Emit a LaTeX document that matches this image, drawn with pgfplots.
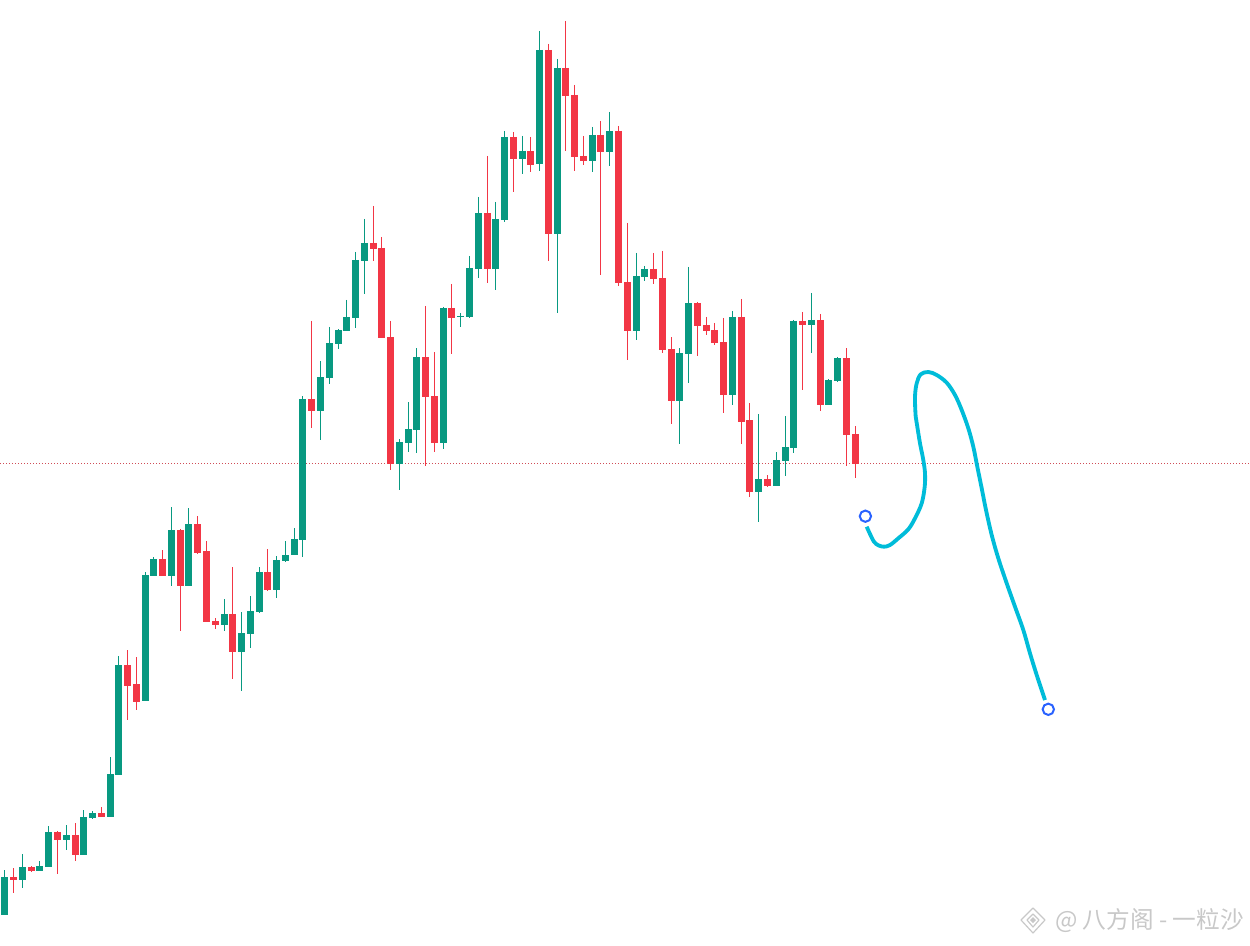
\documentclass[border=0pt]{standalone}
\usepackage{pgfplots}
\usepackage{pgfplotstable}
\usepackage{fontspec}
\pgfplotsset{compat=1.18}
\setmainfont{Noto Sans CJK SC}
\definecolor{cgreen}{HTML}{089981}
\definecolor{cred}{HTML}{F23645}
\definecolor{ccyan}{HTML}{00BCD9}
\definecolor{cblue}{HTML}{2962FF}
\definecolor{wm}{HTML}{C8C8C8}
\pgfplotstableread{
x hi top bot lo
4.3 870 877 915 915
22.3 854 867 880 888
39.3 861 866 871 871
48.3 826 832 867 867
66.3 825 835 840 850
83.3 810 817 855 855
92.3 811 813 818 819
110.3 757 774 817 817
118.3 656 665 775 775
145.3 572 575 701 701
153.3 557 559 576 576
171.3 507 530 576 586
188.3 508 524 586 586
224.3 599 614 625 631
241.3 612 633 652 691
250.3 596 611 634 648
259.3 567 572 612 613
276.3 556 560 590 598
285.3 541 555 561 562
294.3 528 539 555 555
302.3 396 399 540 557
320.3 361 377 411 440
329.3 327 343 378 384
338.3 329 330 344 349
346.3 300 317 331 331
355.3 252 260 318 328
364.3 219 243 261 294
399.3 439 442 464 490
408.3 402 429 443 452
416.3 348 357 430 453
443.3 307 308 443 449
460.3 313 316 317 327
469.3 256 268 317 318
478.3 197 213 269 278
495.3 202 219 269 290
504.3 131 137 220 222
522.3 136 151 159 174
539.3 31 50 164 171
557.3 59 68 234 313
592.3 127 135 161 172
609.3 112 131 152 166
636.3 253 276 331 340
644.3 266 269 277 281
679.3 348 353 401 444
688.3 267 303 354 383
732.3 311 317 395 405
758.3 414 479 492 522
776.3 452 460 486 486
785.3 416 447 461 476
793.3 320 321 448 453
811.3 293 320 325 353
828.3 379 380 405 405
837.3 357 358 381 382
}\greens
\pgfplotstableread{
x hi top bot lo
13.3 868 877 880 893
31.3 866 867 871 872
57.3 831 832 840 874
75.3 823 835 855 861
101.3 807 813 817 817
127.3 650 665 686 720
136.3 657 684 702 710
162.3 550 559 576 576
180.3 529 530 586 631
197.3 516 524 553 554
206.3 541 551 622 622
215.3 618 621 625 629
232.3 567 614 652 679
267.3 549 572 590 591
311.3 321 399 411 428
373.3 206 243 249 261
381.3 237 248 338 338
390.3 321 337 464 470
425.3 306 357 397 466
434.3 352 396 443 452
451.3 284 308 318 354
487.3 156 213 269 283
513.3 132 137 159 192
530.3 137 151 165 172
548.3 44 50 234 261
565.3 21 68 96 151
574.3 85 95 157 171
583.3 136 156 161 165
600.3 121 135 152 275
618.3 126 131 283 286
627.3 223 282 331 360
653.3 253 269 279 284
662.3 251 278 350 353
671.3 337 349 401 424
697.3 302 303 326 356
706.3 317 325 331 335
714.3 323 330 343 345
723.3 318 342 395 413
741.3 299 317 422 444
749.3 403 420 492 497
767.3 475 479 486 487
802.3 312 321 325 390
820.3 314 320 405 411
846.3 348 358 435 466
855.3 426 434 464 478
}\reds
\pgfplotsset{
  wick/.style={draw=none, mark=none, forget plot, error bars/.cd, y dir=plus, y explicit, error mark=none, error bar style={draw=#1, line width=0.6pt}},
  body/.style={draw=none, mark=none, forget plot, error bars/.cd, y dir=plus, y explicit, error mark=none, error bar style={draw=#1, line width=4.2pt}},
}
\begin{document}
\begin{tikzpicture}
\useasboundingbox (0,0) rectangle (750pt,567.6pt);
\begin{axis}[
  width=750pt, height=567.6pt, scale only axis,
  xmin=0, xmax=1250, ymin=0, ymax=946, y dir=reverse,
  hide axis, clip=false, at={(0,0)}, anchor=south west,
]
\addplot[cred!70!gray, line width=0.4pt, dash pattern=on 0.6pt off 1.2pt, forget plot] coordinates {(0,463.5) (1250,463.5)};
\addplot[wick=cgreen] table[x=x, y=hi, y error expr=\thisrow{lo}-\thisrow{hi}] {\greens};
\addplot[wick=cred] table[x=x, y=hi, y error expr=\thisrow{lo}-\thisrow{hi}] {\reds};
\addplot[body=cgreen] table[x=x, y=top, y error expr=\thisrow{bot}-\thisrow{top}] {\greens};
\addplot[body=cred] table[x=x, y=top, y error expr=\thisrow{bot}-\thisrow{top}] {\reds};
\addplot[ccyan, line width=2.3pt, smooth, tension=0.55, line cap=butt] coordinates {
(866.7,526.7)(870,534)(874,541.7)(878.3,545.3)(884,546.7)(890,545)(898.3,538.3)(908.3,529.3)(915,518.3)(921.7,503.3)(924.7,486.7)(925,473.3)(923.3,460)(920,443.3)(917.3,426.7)(915.7,416.7)(915,396.7)(916.7,383.3)(920.7,374.3)(928.3,372)(936.7,375)(946.7,382.7)(955,395)(961.7,410)(968.3,428.3)(973.3,446.7)(977.3,466.7)(981.7,488.3)(986,510)(991.7,535)(998.3,558.3)(1006.7,583.3)(1015,606.7)(1023.3,630)(1030,653.3)(1036.7,675)(1045,700)};
\addplot[only marks, mark=*, mark size=3.4pt, mark options={draw=cblue, fill=white, line width=1.2pt}] coordinates {(865.4,516.2)(1048.3,709.3)};
% watermark
\draw[wm, line width=0.7pt, line join=round] (axis cs:1021,920)--(axis cs:1033,908)--(axis cs:1045,920)--(axis cs:1033,933)--cycle;
\draw[wm, line width=0.7pt, line join=round] (axis cs:1027,920)--(axis cs:1033,914)--(axis cs:1039,920)--(axis cs:1033,927)--cycle;
\fill[wm] (axis cs:1033,917)--(axis cs:1036,920)--(axis cs:1033,923)--(axis cs:1030,920)--cycle;
\node[anchor=east, inner sep=0pt, text=wm, font=\fontsize{14.2}{14.2}\selectfont] at (axis cs:1244,920.5) {@ 八方阁 - 一粒沙};
\end{axis}
\end{tikzpicture}
\end{document}
